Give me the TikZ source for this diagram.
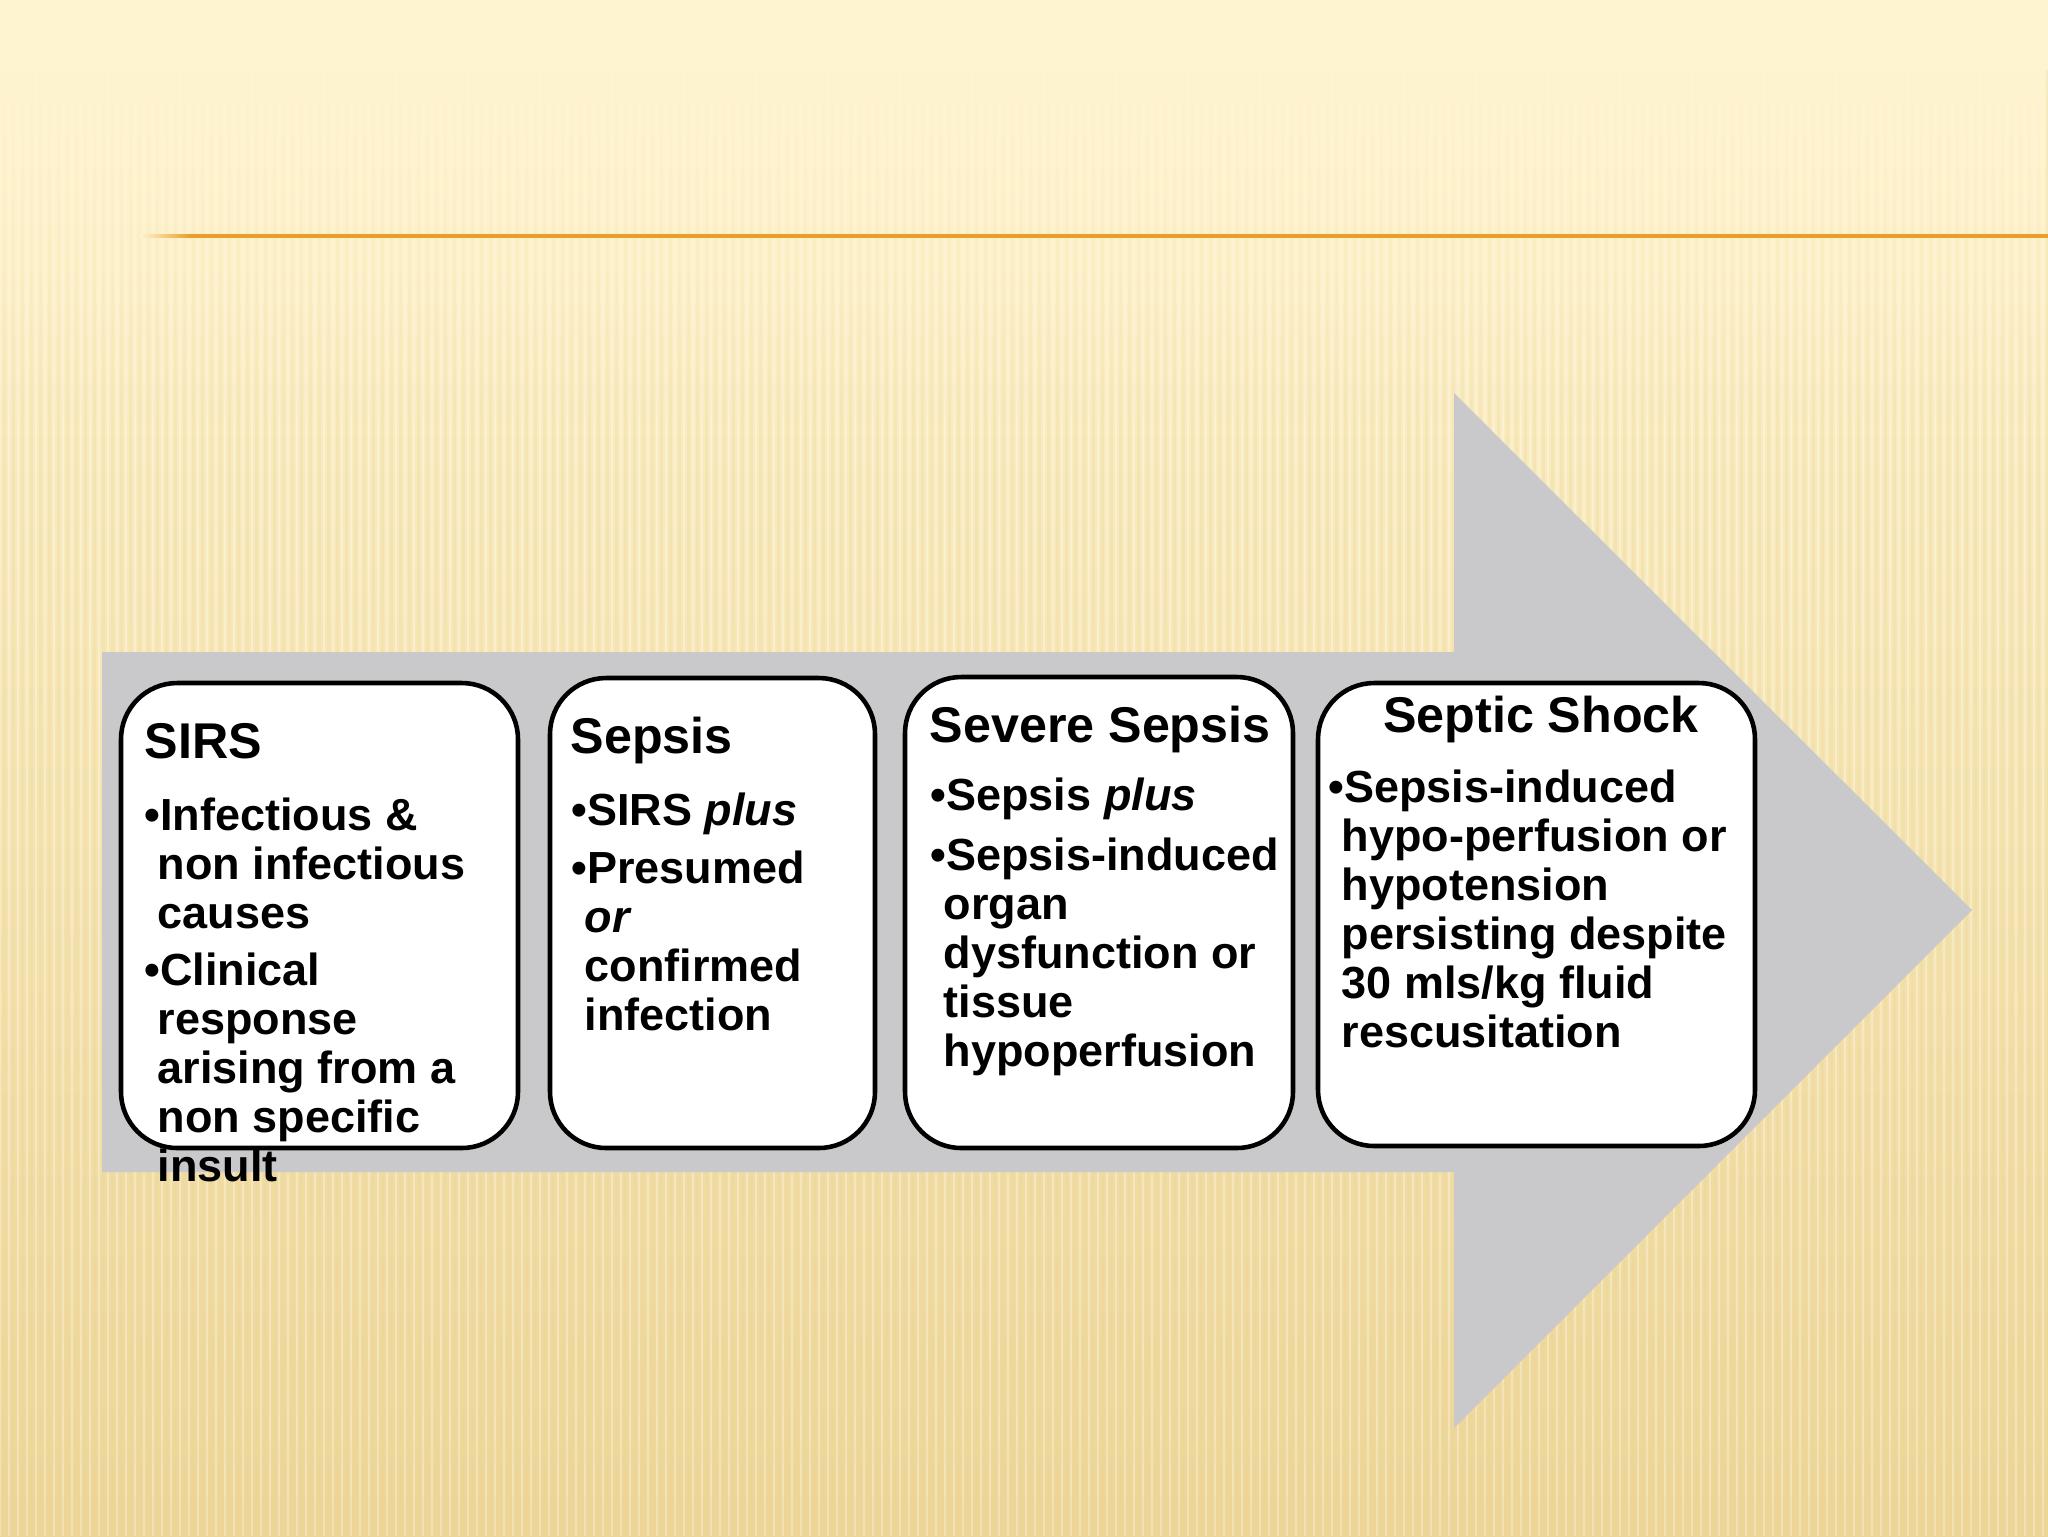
\documentclass[tikz,border=0pt]{standalone}
\usepackage{fontspec}
\setmainfont{Liberation Sans}
\usetikzlibrary{fadings}

\definecolor{bgtop}{RGB}{255,244,208}
\definecolor{bgmid}{RGB}{253,237,190}
\definecolor{bgbot}{RGB}{236,213,150}
\definecolor{arrowgray}{RGB}{201,201,203}
\definecolor{rulecol}{RGB}{234,158,42}

\newcommand{\headfont}{\fontsize{14.3pt}{16pt}\selectfont\bfseries}
\newcommand{\bodyfont}{\fontsize{12.8pt}{14pt}\selectfont\bfseries}

\begin{document}
\begin{tikzpicture}[x=0.1mm, y=-0.1mm,
	stagebox/.style={draw=black, line width=1.3pt, fill=white, rounded corners=16pt, inner sep=0pt},
	headtxt/.style={anchor=base west, inner sep=0pt, font=\headfont},
	txt/.style={anchor=base west, inner sep=0pt, font=\bodyfont}]
	\useasboundingbox (0,0) rectangle (2048,1536);
	% background
	\shade[top color=bgtop, middle color=bgmid, bottom color=bgbot] (0,0) rectangle (2048,1536);
	\foreach \x in {0,9,...,2048}
	{
		\draw[white, opacity=0.3, line width=0.7pt] (\x,60) -- (\x,1536);
		\draw[bgbot, opacity=0.25, line width=0.6pt] (\x+4.5,60) -- (\x+4.5,1536);
	}
	\fill[bgtop] (0,0) rectangle (2048,70);
	\fill[bgtop, path fading=south] (0,69) rectangle (2048,420);
	% rule
	\coordinate (ruleA) at (190,236);
	\coordinate (ruleB) at (2048,236);
	\shade[left color=bgtop, right color=rulecol] (140,234.5) rectangle (190,237.5);
	\draw[rulecol, line width=0.9pt] (ruleA) -- (ruleB);
	% arrow
	\fill[arrowgray] (102,652) -- (1454,652) -- (1454,393) -- (1972,910)
		-- (1454,1428) -- (1454,1172) -- (102,1172) -- cycle;
	% boxes
	\node[stagebox, minimum width=3.97cm, minimum height=4.65cm] (sirs) at (319.5,915.5) {};
	\node[stagebox, minimum width=3.25cm, minimum height=4.70cm] (sepsis) at (712.5,913) {};
	\node[stagebox, minimum width=3.88cm, minimum height=4.71cm] (severe) at (1099,912.5) {};
	\node[stagebox, minimum width=4.37cm, minimum height=4.63cm] (shock) at (1536.5,914.5) {};
	% SIRS
	\node[headtxt] (sirs-t) at (144,758) {SIRS};
	\node[txt] (sirs-1) at (144,830) {•Infectious \&};
	\node[txt] (sirs-2) at (157,879) {non infectious};
	\node[txt] (sirs-3) at (157,928) {causes};
	\node[txt] (sirs-4) at (144,985) {•Clinical};
	\node[txt] (sirs-5) at (157,1034) {response};
	\node[txt] (sirs-6) at (157,1083) {arising from a};
	\node[txt] (sirs-7) at (157,1132) {non specific};
	\node[txt] (sirs-8) at (157,1181) {insult};
	% Sepsis
	\node[headtxt] (sepsis-t) at (570,753) {Sepsis};
	\node[txt] (sepsis-1) at (571,825) {•SIRS \textit{plus}};
	\node[txt] (sepsis-2) at (571,883) {•Presumed};
	\node[txt] (sepsis-3) at (584,932) {\textit{or}};
	\node[txt] (sepsis-4) at (584,981) {confirmed};
	\node[txt] (sepsis-5) at (584,1030) {infection};
	% Severe Sepsis
	\node[headtxt] (severe-t) at (929,742) {Severe Sepsis};
	\node[txt] (severe-1) at (930,810) {•Sepsis \textit{plus}};
	\node[txt] (severe-2) at (930,870) {•Sepsis-induced};
	\node[txt] (severe-3) at (943,919) {organ};
	\node[txt] (severe-4) at (943,968) {dysfunction or};
	\node[txt] (severe-5) at (943,1017) {tissue};
	\node[txt] (severe-6) at (943,1066) {hypoperfusion};
	% Septic Shock
	\node[headtxt, anchor=base] (shock-t) at (1541,732) {Septic Shock};
	\node[txt] (shock-1) at (1328,802) {•Sepsis-induced};
	\node[txt] (shock-2) at (1341,851) {hypo-perfusion or};
	\node[txt] (shock-3) at (1341,900) {hypotension};
	\node[txt] (shock-4) at (1341,949) {persisting despite};
	\node[txt] (shock-5) at (1341,998) {30 mls/kg fluid};
	\node[txt] (shock-6) at (1341,1047) {rescusitation};
\end{tikzpicture}
\end{document}
